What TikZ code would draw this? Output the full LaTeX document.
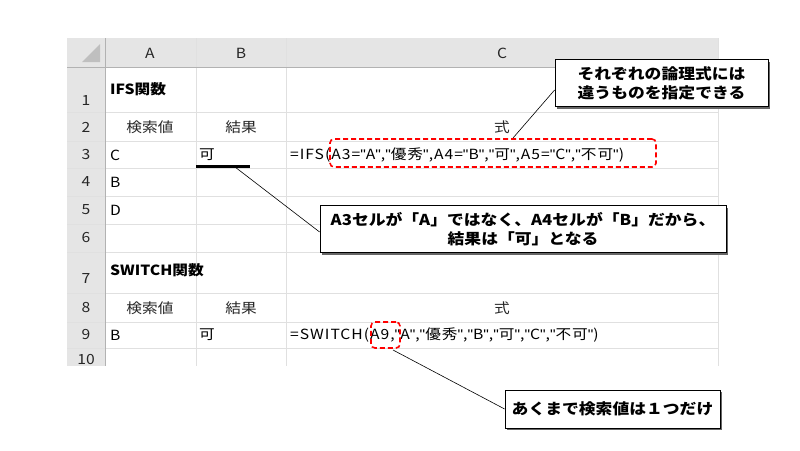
\documentclass[tikz,border=0pt]{standalone}
\usepackage{fontspec}
\setmainfont{Noto Sans CJK JP}
\newfontfamily\cellfont[FakeStretch=1.12]{Noto Sans CJK JP}
\newfontfamily\formfont[FakeStretch=1.12,LetterSpace=7]{Noto Sans CJK JP}
\newfontfamily\qfont[FakeStretch=1.12,LetterSpace=7]{Liberation Sans}
\newcommand{\qq}{{\qfont"}}
\usetikzlibrary{shadows}
\begin{document}
\begin{tikzpicture}[x=1pt,y=-1pt,
 grid/.style={draw=black!12,line width=0.8pt},
 cell/.style={font=\cellfont\fontsize{14}{15}\selectfont,inner sep=0pt,anchor=west},
 form/.style={font=\formfont\fontsize{14}{15}\selectfont,inner sep=0pt,anchor=west},
 hdr/.style={font=\cellfont\fontsize{14}{15}\selectfont,inner sep=0pt,text=black!85},
 callout/.style={draw=black,fill=white,line width=0.8pt,drop shadow={shadow xshift=2pt,shadow yshift=-2pt,fill=black!60,opacity=1},font=\cellfont\bfseries\fontsize{15}{19}\selectfont,align=center,inner sep=0pt},
 redbox/.style={draw=red,dashed,line width=1.6pt,rounded corners=4pt,dash pattern=on 5pt off 3pt},
 lead/.style={draw=black,line width=0.6pt}]
\useasboundingbox (0,0) rectangle (800,450);
% header backgrounds
\fill[black!10] (67,38) rectangle (718,67);
\fill[black!10] (67,38) rectangle (105,366);
\fill[black!25] (100,44) -- (100,62) -- (82,62) -- cycle;
% grid
\foreach \y in {67,112,141,168,196,224,252,293,322,348}{\draw[grid] (67,\y) -- (718,\y);}
\foreach \x in {105,196,286,718}{\draw[grid] (\x,38) -- (\x,366);}
\draw[black!30,line width=0.8pt] (105,38)--(105,366);
\draw[black!30,line width=0.8pt] (67,67)--(718,67);
% column headers
\node[hdr] (hA) at (150,53) {A};
\node[hdr] (hB) at (241,53) {B};
\node[hdr] (hC) at (502,53) {C};
% row headers
\foreach \n/\y in {1/101,2/127,3/155,4/182,5/210,6/238,7/279,8/308,9/335,10/360}{\node[hdr] (r\n) at (86,\y) {\n};}
% cells
\node[cell,font=\cellfont\bfseries\fontsize{14}{15}\selectfont] (t1) at (110,89) {IFS関数};
\node[hdr] (a2) at (150,127) {検索値};
\node[hdr] (b2) at (241,127) {結果};
\node[hdr] (c2) at (502,127) {式};
\node[cell] (a3) at (110,155) {C};
\node[cell] (b3) at (199,155) {可};
\node[form] (c3) at (290,155) {=IFS(A3=\qq A\qq,\qq 優秀\qq,A4=\qq B\qq,\qq 可\qq,A5=\qq C\qq,\qq 不可\qq)};
\node[cell] (a4) at (110,182) {B};
\node[cell] (a5) at (110,210) {D};
\node[cell,font=\cellfont\bfseries\fontsize{14}{15}\selectfont] (t7) at (110,270) {SWITCH関数};
\node[hdr] (a8) at (150,308) {検索値};
\node[hdr] (b8) at (241,308) {結果};
\node[hdr] (c8) at (502,308) {式};
\node[cell] (a9) at (110,335) {B};
\node[cell] (b9) at (199,335) {可};
\node[form] (c9) at (290,335) {=SWITCH(A9,\qq A\qq,\qq 優秀\qq,\qq B\qq,\qq 可\qq,\qq C\qq,\qq 不可\qq)};
% underline
\draw[line width=3pt] (196,166) -- (250,166);
\coordinate (u) at (235,167);
% red boxes
\node[redbox,minimum width=326pt,minimum height=28pt,inner sep=0pt] (rb1) at (493,153) {};
\node[redbox,minimum width=29pt,minimum height=26pt,inner sep=0pt] (rb2) at (385.5,335) {};
% callouts
\node[callout,minimum width=213pt,minimum height=47pt] (co1) at (661.5,83) {それぞれの論理式には\\違うものを指定できる};
\node[callout,minimum width=406pt,minimum height=47pt] (co2) at (523,229) {A3セルが「A」ではなく、A4セルが「B」だから、\\結果は「可」となる};
\node[callout,minimum width=215pt,minimum height=38pt] (co3) at (612.5,409) {あくまで検索値は１つだけ};
\coordinate (p1) at (513,138);
\coordinate (p3) at (393,350);
\draw[lead] (co1.west |- 0,90) -- (p1);
\draw[lead] (co2.west |- 0,232) -- (u);
\draw[lead] (co3.west) -- (p3);
\end{tikzpicture}
\end{document}
